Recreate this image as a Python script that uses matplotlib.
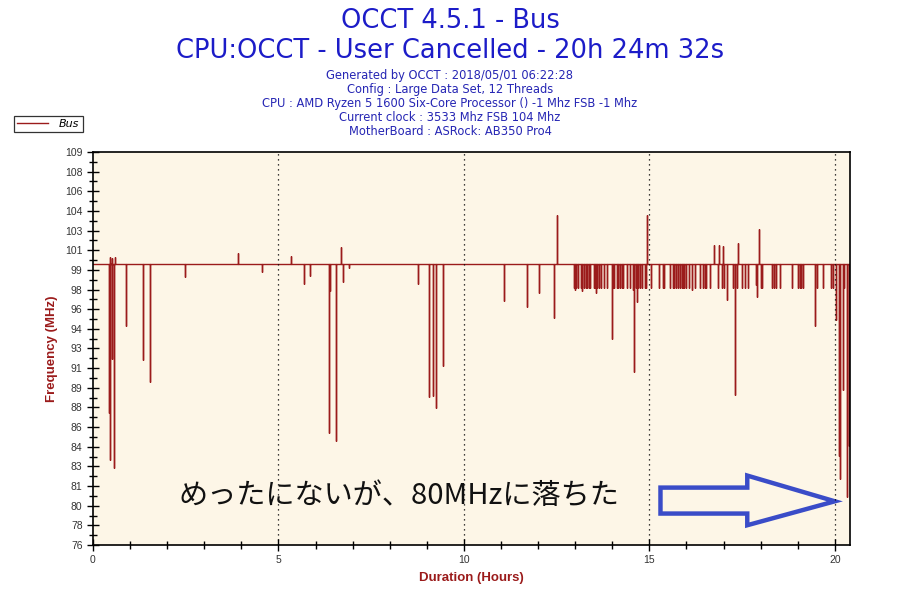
import numpy as np
import matplotlib.pyplot as plt
from matplotlib.patches import Polygon
from matplotlib.lines import Line2D

# ---- data ----
base_mhz = 99.6
run_end_h = 20.41

# isolated spikes (hour, MHz)
spike_h = [0.44, 0.45, 0.47, 0.50, 0.52, 0.57, 0.60, 0.90, 1.36, 1.55, 2.49, 3.92,
           4.56, 5.35, 5.70, 5.86, 6.37, 6.38, 6.56, 6.69, 6.75, 6.91,
           8.77, 9.05, 9.17, 9.25, 9.44, 11.09, 11.71, 12.03, 12.43, 12.51,
           13.98, 14.59, 14.67, 14.94, 16.75, 16.87, 16.99, 17.10, 17.31, 17.39,
           17.90, 17.96, 19.47, 20.04, 20.10, 20.15, 20.21, 20.33, 20.37]
spike_mhz = [87.1, 100.2, 83.1, 91.6, 100.1, 82.5, 100.2, 94.4, 91.5, 89.7, 98.5, 100.5,
             98.9, 100.3, 97.9, 98.6, 85.4, 97.3, 84.7, 101.0, 98.1, 99.3,
             97.9, 88.4, 88.5, 87.5, 91.0, 96.5, 96.0, 97.2, 95.1, 103.7,
             93.3, 90.5, 96.4, 103.7, 101.2, 101.2, 101.1, 96.6, 88.6, 101.4,
             96.8, 102.5, 94.4, 94.9, 83.5, 81.5, 89.0, 80.0, 84.3]

# dense shallow dips from ~13h onward (hour, MHz)
dip_h = [12.96, 12.99, 13.02, 13.08, 13.15, 13.19, 13.23, 13.28, 13.32, 13.37, 13.40,
         13.51, 13.54, 13.57, 13.60, 13.65, 13.71, 13.78, 13.86, 14.02, 14.06, 14.12,
         14.16, 14.20, 14.25, 14.29, 14.41, 14.47, 14.56, 14.63, 14.70, 14.74, 14.81,
         14.88, 14.91, 15.04, 15.26, 15.37, 15.40, 15.57, 15.64, 15.67, 15.73, 15.78,
         15.82, 15.87, 15.91, 15.94, 15.98, 16.07, 16.16, 16.23, 16.36, 16.45, 16.50,
         16.54, 16.63, 16.85, 16.95, 17.01, 17.26, 17.35, 17.49, 17.57, 17.66, 17.87,
         18.00, 18.05, 18.31, 18.36, 18.41, 18.52, 18.85, 19.01, 19.06, 19.10, 19.15,
         19.52, 19.68, 19.91, 19.95, 20.24]
dip_mhz = [97.6, 97.4, 97.6, 97.6, 97.6, 97.3, 97.6, 97.6, 97.6, 97.6, 97.6,
           97.6, 97.6, 97.2, 97.6, 97.6, 97.6, 97.6, 97.6, 97.6, 97.6, 97.6,
           97.6, 97.6, 97.6, 97.6, 97.6, 97.6, 97.4, 97.6, 97.6, 97.6, 97.6,
           97.6, 97.6, 97.6, 97.6, 97.6, 97.6, 97.6, 97.6, 97.6, 97.6, 97.6,
           97.6, 97.6, 97.6, 97.6, 97.6, 97.6, 97.4, 97.6, 97.6, 97.6, 97.6,
           97.6, 97.6, 97.6, 97.6, 97.6, 97.6, 97.6, 97.6, 97.6, 97.6, 97.8,
           97.6, 97.6, 97.6, 97.6, 97.6, 97.6, 97.6, 97.6, 97.6, 97.6, 97.6,
           97.6, 97.6, 97.6, 97.6, 97.6]

ytick_labels = ['76', '78', '80', '81', '83', '84', '86', '88', '89', '91', '93',
                '94', '96', '98', '99', '101', '103', '104', '106', '108', '109']

title1 = 'OCCT 4.5.1 - Bus'
title2 = 'CPU:OCCT - User Cancelled - 20h 24m 32s'
info_lines = ['Generated by OCCT : 2018/05/01 06:22:28',
              'Config : Large Data Set, 12 Threads',
              'CPU : AMD Ryzen 5 1600 Six-Core Processor () -1 Mhz FSB -1 Mhz',
              'Current clock : 3533 Mhz FSB 104 Mhz',
              'MotherBoard : ASRock: AB350 Pro4']
note = 'めったにないが、80MHzに落ちた'

# build the trace: baseline with vertical excursions
events = sorted(zip(spike_h + dip_h, spike_mhz + dip_mhz))
xs = [0.0]
ys = [base_mhz]
for t, v in events:
    xs += [t, t, t]
    ys += [base_mhz, v, base_mhz]
xs.append(run_end_h)
ys.append(base_mhz)

red = '#9b1b1b'
blue = '#1c1cc8'

fig = plt.figure(figsize=(9, 6), dpi=100)
ax = fig.add_axes([93/900, 55/600, 757/900, 393/600])
ax.set_facecolor('#fdf6e7')

ax.plot(xs, ys, color=red, lw=1.0, solid_joinstyle='miter')

ax.set_xlim(0, run_end_h)
ax.set_ylim(76, 109)

ax.set_xticks([0, 5, 10, 15, 20])
ax.set_xticks(np.arange(0, 21, 1), minor=True)
yt = np.linspace(76, 109, 21)
ax.set_yticks(yt)
ax.set_yticklabels(ytick_labels)
ax.set_yticks((yt[:-1] + yt[1:]) / 2, minor=True)
ax.tick_params(which='major', direction='inout', length=9, width=1, labelsize=7.5,
               labelcolor='#333333', pad=3)
ax.tick_params(which='minor', direction='inout', length=6, width=1)
for lab in ax.get_xticklabels() + ax.get_yticklabels():
    lab.set_family('Liberation Sans')

for v in [5, 10, 15, 20]:
    ax.axvline(v, color='black', lw=0.9, ls=(0, (1, 3)))

for s in ax.spines.values():
    s.set_linewidth(1.2)

ax.set_ylabel('Frequency (MHz)', color=red, fontsize=9.5, fontweight='bold',
              family=['Liberation Sans Narrow', 'Liberation Sans'], labelpad=5)
ax.set_xlabel('Duration (Hours)', color=red, fontsize=9.5, fontweight='bold',
              family=['Liberation Sans Narrow', 'Liberation Sans'], labelpad=5)

# titles
fig.text(0.5, 1 - 21/600, title1, ha='center', va='center', fontsize=18.5, color=blue)
fig.text(0.5, 1 - 51/600, title2, ha='center', va='center', fontsize=18.5, color=blue)
for i, line in enumerate(info_lines):
    fig.text(0.5, 1 - (76 + 13.8*i)/600, line, ha='center', va='center',
             fontsize=8.3, color='#2626b4')

# legend
leg = fig.legend([Line2D([], [], color=red, lw=1)], ['Bus'], loc='upper left',
                 bbox_to_anchor=(8/900, 1 - 110/600), frameon=True, fancybox=False,
                 edgecolor='black', handlelength=2.8, handletextpad=1.0, borderpad=0.3,
                 prop={'style': 'italic', 'size': 8})
leg.get_frame().set_linewidth(0.9)

# annotation text and arrow
ax.text(2.3, 80.1, note, fontsize=21, va='center', ha='left', color='#111111',
        family=['Noto Sans CJK JP', 'DejaVu Sans'])
arrow = Polygon([(15.3, 80.82), (17.64, 80.82), (17.64, 81.83), (20.0, 79.67),
                 (17.64, 77.66), (17.64, 78.64), (15.3, 78.64)], closed=True,
                fill=False, edgecolor='#3a4cc8', lw=3.2, joinstyle='miter')
ax.add_patch(arrow)

fig.savefig('out.png', dpi=100)
